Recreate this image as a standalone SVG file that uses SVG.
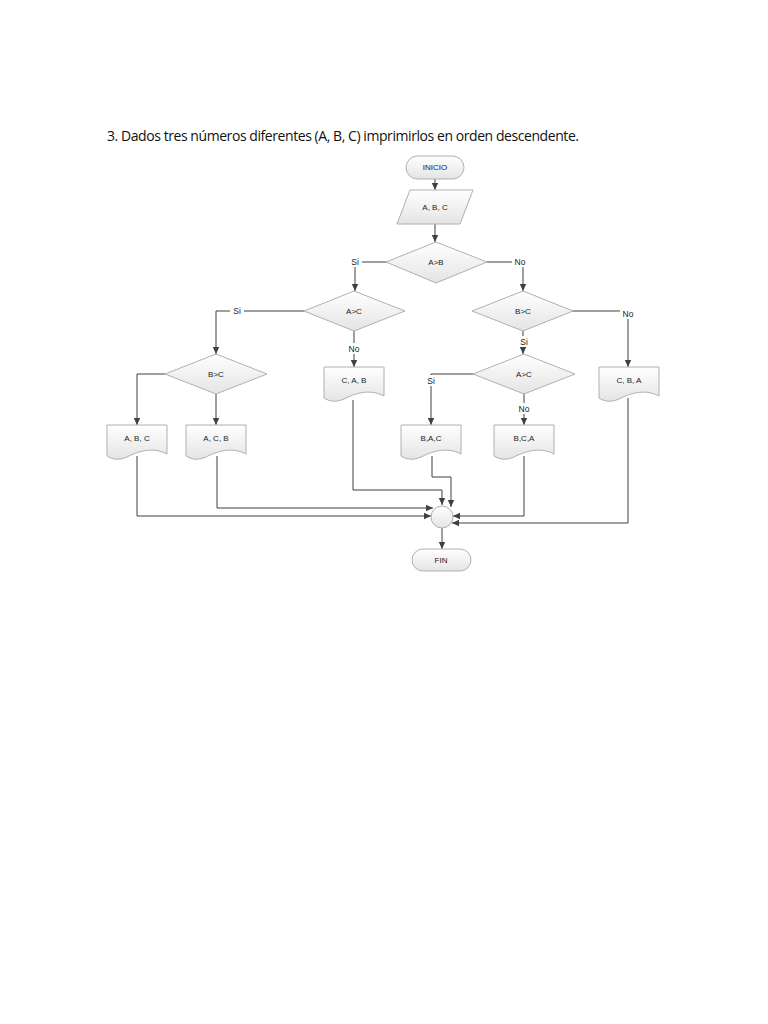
<svg xmlns="http://www.w3.org/2000/svg" width="768" height="1024" viewBox="0 0 768 1024">
<defs>
<linearGradient id="g" x1="0" y1="0" x2="0" y2="1"><stop offset="0" stop-color="#ffffff"/><stop offset="1" stop-color="#e4e4e4"/></linearGradient>
<marker id="a" markerWidth="8" markerHeight="8" refX="7" refY="4" orient="auto" markerUnits="userSpaceOnUse"><path d="M0,0.8 L7,4 L0,7.2 z" fill="#404040"/></marker>
<style>
.s{fill:url(#g);stroke:#b0b0b0;stroke-width:1}
.t{font-family:"Liberation Sans",Arial,sans-serif;font-size:8px;fill:#222;text-anchor:middle}
.l{font-family:"Liberation Sans",Arial,sans-serif;font-size:8.5px;fill:#222;text-anchor:middle}
.c path{fill:none;stroke:#404040;stroke-width:1}
.c path.ar{marker-end:url(#a)}
</style>
</defs>
<rect width="768" height="1024" fill="#fff"/>
<text x="107" y="141" font-family="'Open Sans','Liberation Sans',sans-serif" font-size="14" fill="#111" textLength="472">3. Dados tres números diferentes (A, B, C) imprimirlos en orden descendente.</text>
<g class="c">
<path class="ar" d="M435,179 V190"/>
<path class="ar" d="M435,224 V242"/>
<path class="ar" d="M386,262 H355 V291"/>
<path class="ar" d="M487,262 H523 V291"/>
<path class="ar" d="M304,311 H216 V354"/>
<path class="ar" d="M354,331 V367"/>
<path class="ar" d="M573,311 H628 V367"/>
<path class="ar" d="M523,331 V354"/>
<path class="ar" d="M165,374 H137 V425"/>
<path class="ar" d="M216,394 V425"/>
<path class="ar" d="M473,374 H431 V425"/>
<path class="ar" d="M524,394 V425"/>
<path class="ar" d="M353,400 V490 H442 V505"/>
<path class="ar" d="M217,456 V508 H433"/>
<path class="ar" d="M137,456 V516 H431"/>
<path class="ar" d="M432,456 V477 H451 V507"/>
<path class="ar" d="M524,456 V516 H453"/>
<path class="ar" d="M628,398 V523 H452"/>
<path class="ar" d="M442,528 V549"/>
</g>
<g id="inicio"><rect class="s" x="406" y="156" width="58" height="23" rx="11.5"/><text class="t" x="435" y="170">INICIO</text></g>
<g id="entrada"><path class="s" d="M410,190 H473 L460,224 H397 z"/><text class="t" x="435" y="210">A, B, C</text></g>
<g id="d1"><path class="s" d="M436,242 L487,262 L436,283 L386,262 z"/><text class="t" x="436" y="265">A&gt;B</text></g>
<g id="d2"><path class="s" d="M354,291 L405,311 L354,331 L304,311 z"/><text class="t" x="354" y="314">A&gt;C</text></g>
<g id="d3"><path class="s" d="M523,291 L573,311 L523,331 L472,311 z"/><text class="t" x="523" y="314">B&gt;C</text></g>
<g id="d4"><path class="s" d="M216,354 L267,374 L216,394 L165,374 z"/><text class="t" x="216" y="377">B&gt;C</text></g>
<g id="d5"><path class="s" d="M524,354 L575,374 L524,394 L473,374 z"/><text class="t" x="524" y="377">A&gt;C</text></g>
<g id="o1"><path class="s" d="M107,425 H167 V454 C152,446 137,452 127,457 C118,461 112,459 107,456 z"/><text class="t" x="137" y="441">A, B, C</text></g>
<g id="o2"><path class="s" d="M186,425 H246 V454 C231,446 216,452 206,457 C197,461 191,459 186,456 z"/><text class="t" x="216" y="441">A, C, B</text></g>
<g id="o3"><path class="s" d="M324,367 H384 V396 C369,388 354,394 344,399 C335,403 329,401 324,398 z"/><text class="t" x="354" y="383">C, A, B</text></g>
<g id="o4"><path class="s" d="M401,425 H461 V454 C446,446 431,452 421,457 C412,461 406,459 401,456 z"/><text class="t" x="431" y="441">B,A,C</text></g>
<g id="o5"><path class="s" d="M494,425 H554 V454 C539,446 524,452 514,457 C505,461 499,459 494,456 z"/><text class="t" x="524" y="441">B,C,A</text></g>
<g id="o6"><path class="s" d="M599,367 H659 V396 C644,388 629,394 619,399 C610,403 604,401 599,398 z"/><text class="t" x="629" y="383">C, B, A</text></g>
<g id="conector"><circle class="s" cx="442" cy="517" r="11"/></g>
<g id="fin"><rect class="s" x="412" y="549" width="59" height="22" rx="11"/><text class="t" x="441" y="563">FIN</text></g>
<g id="etiquetas">
<rect x="348" y="256" width="14" height="11" fill="#fff"/><text class="l" x="355" y="265">Si</text>
<rect x="512" y="256" width="16" height="11" fill="#fff"/><text class="l" x="520" y="265">No</text>
<rect x="230" y="305" width="14" height="11" fill="#fff"/><text class="l" x="237" y="314">Si</text>
<rect x="346" y="343" width="16" height="11" fill="#fff"/><text class="l" x="354" y="352">No</text>
<rect x="620" y="308" width="16" height="11" fill="#fff"/><text class="l" x="628" y="317">No</text>
<rect x="517" y="336" width="14" height="11" fill="#fff"/><text class="l" x="524" y="345">Si</text>
<rect x="424" y="375" width="14" height="11" fill="#fff"/><text class="l" x="431" y="384">Si</text>
<rect x="516" y="403" width="16" height="11" fill="#fff"/><text class="l" x="524" y="412">No</text>
</g>
</svg>
